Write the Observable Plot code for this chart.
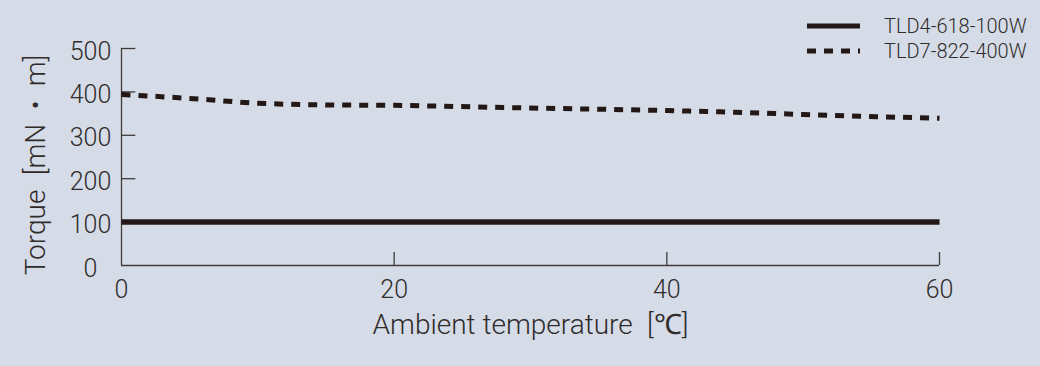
<!DOCTYPE html>
<html>
<head>
<meta charset="utf-8">
<script src="https://cdn.jsdelivr.net/npm/d3@7"></script>
<script src="https://cdn.jsdelivr.net/npm/@observablehq/plot@0.6"></script>
<style>
  html, body { margin: 0; padding: 0; background: #d6dce7; }
  #wrap { position: relative; width: 1040px; height: 366px; background: #d6dce7; overflow: hidden; font-family: Roboto, "Liberation Sans", Arial, sans-serif; font-weight: 300; }
  #legend { position: absolute; left: 807px; top: 13px; font-size: 20px; color: #2f2c2b; }
  .row { display: flex; align-items: center; height: 25px; }
  .row svg { margin-right: 24px; }
</style>
</head>
<body>
<div id="wrap">
  <div id="chart"></div>
  <div id="legend"></div>
</div>
<script>
// Data
const seriesNames = ["TLD4-618-100W", "TLD7-822-400W"];
const tld4Temp = [0, 60];
const tld4Torque = [100, 100];
const tld7Temp = [0, 5, 10, 15, 20, 28, 40, 45, 50, 60];
const tld7Torque = [394, 385, 374, 370, 369, 364, 357, 353, 348, 339];
const xTicks = [0, 20, 40, 60];
const yTicks = [0, 100, 200, 300, 400, 500];
const xLabel = "Ambient temperature\u2002[℃]";
const yLabel = "Torque\u2002[mN\u2002•\u2002m]";

const ink = "#231815";
const axisInk = "#3e3a39";
const textInk = "#2f2c2b";

const tld4 = tld4Temp.map((t, i) => ({t, v: tld4Torque[i]}));
const tld7 = tld7Temp.map((t, i) => ({t, v: tld7Torque[i]}));

const chart = Plot.plot({
  width: 1040,
  height: 366,
  marginLeft: 121,
  marginRight: 101,
  marginTop: 48,
  marginBottom: 101,
  style: {background: "transparent", fontFamily: "Roboto, 'Liberation Sans', Arial, sans-serif", fontWeight: 300, color: textInk},
  x: {domain: [0, 60], axis: null},
  y: {domain: [0, 500], axis: null},
  marks: [
    // axis lines
    Plot.ruleX([0], {y1: 0, y2: 500, stroke: axisInk, strokeWidth: 1.3}),
    Plot.ruleY([0], {x1: 0, x2: 60, stroke: axisInk, strokeWidth: 1.3}),
    // inward ticks
    Plot.ruleY(yTicks.filter(d => d > 0), {x1: 0, x2: 1.05, stroke: axisInk, strokeWidth: 1.3}),
    Plot.ruleX(xTicks.filter(d => d > 0), {y1: 0, y2: 30, stroke: axisInk, strokeWidth: 1.3}),
    // tick labels
    Plot.text(yTicks, {x: 0, y: d => d, dx: -31, dy: 3, textAnchor: "middle", fontSize: 25, fontWeight: 300, fill: textInk}),
    Plot.text(xTicks, {x: d => d, y: 0, dy: 24, textAnchor: "middle", fontSize: 25, fontWeight: 300, fill: textInk}),
    // axis labels
    Plot.text([xLabel], {frameAnchor: "bottom", dy: 68, fontSize: 28, fontWeight: 300, fill: textInk}),
    Plot.text([yLabel], {frameAnchor: "left", dx: -85, dy: 8, rotate: -90, textAnchor: "middle", fontSize: 28, fontWeight: 300, fill: textInk}),
    // series
    Plot.line(tld4, {x: "t", y: "v", stroke: ink, strokeWidth: 5.5, strokeLinecap: "butt"}),
    Plot.line(tld7, {x: "t", y: "v", stroke: ink, strokeWidth: 5, strokeDasharray: "9,8", strokeLinecap: "butt", curve: "monotone-x"})
  ]
});
document.getElementById("chart").append(chart);

// Legend
const legend = document.getElementById("legend");
seriesNames.forEach((name, i) => {
  const row = document.createElement("div");
  row.className = "row";
  const dash = i === 0 ? "" : `stroke-dasharray="9,8"`;
  row.innerHTML = `<svg width="53" height="8"><line x1="0" y1="4" x2="53" y2="4" stroke="${ink}" stroke-width="5" ${dash}/></svg><span>${name}</span>`;
  legend.append(row);
});
</script>
</body>
</html>
